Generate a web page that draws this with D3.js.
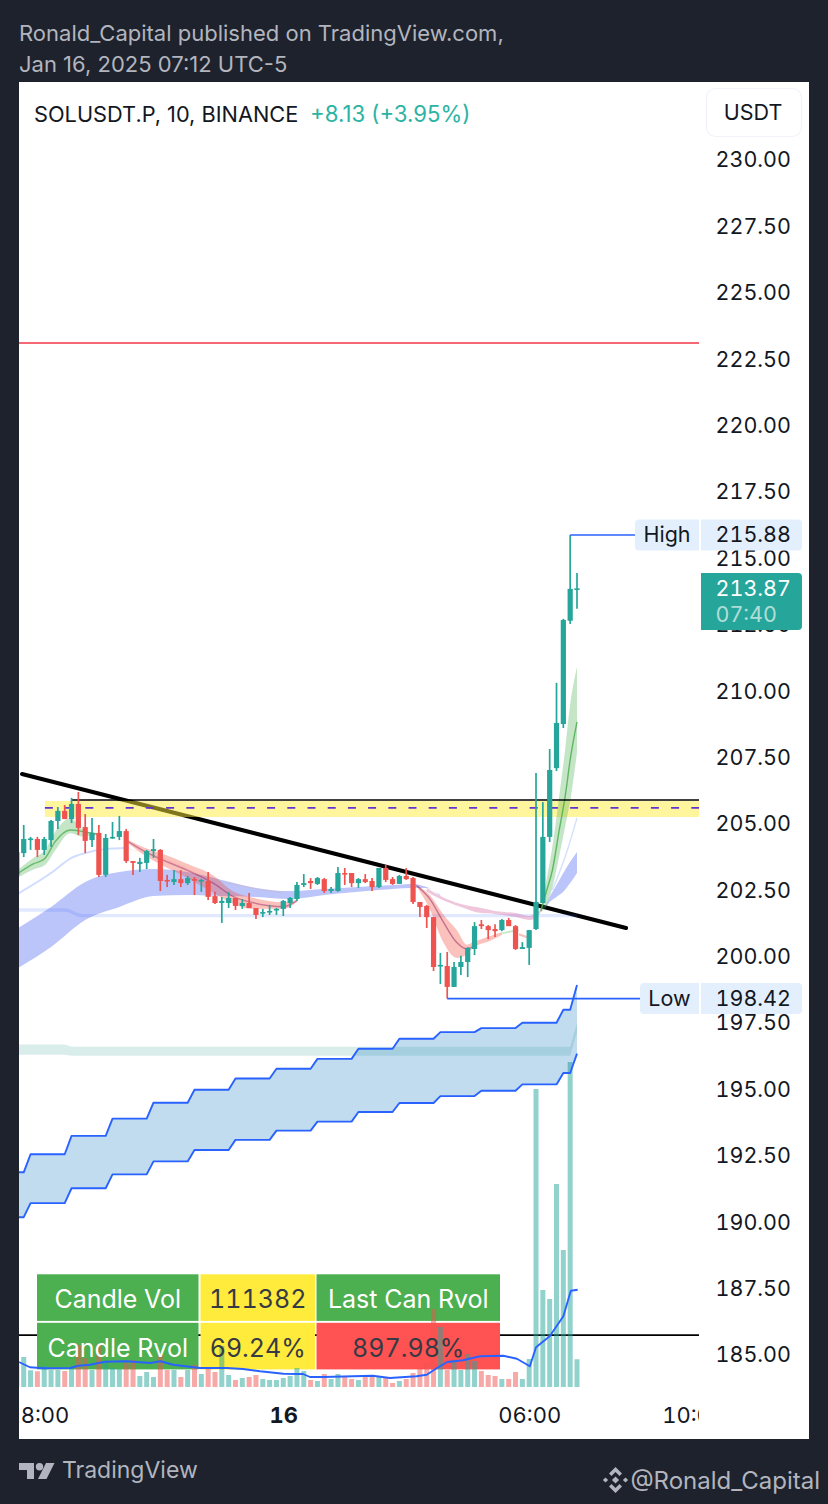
<!DOCTYPE html>
<html><head><meta charset="utf-8">
<script src="https://d3js.org/d3.v7.min.js"></script>
<style>html,body{margin:0;padding:0;background:#1e222d}svg{display:block}text{font-family:Inter,"Noto Sans",sans-serif}.tn,.tn text{font-variant-numeric:tabular-nums;font-feature-settings:"tnum" 1}</style>
</head><body><div id="c"></div>
<script>
// ---------- candles (10 min) ----------
const opens=[203.08,203.90,204.39,204.43,204.02,204.39,205.11,205.49,205.18,205.75,204.88,204.39,204.66,203.08,204.47,204.51,204.73,203.60,203.49,203.53,203.98,204.02,202.89,202.81,202.92,202.77,202.92,202.85,202.85,202.28,202.02,202.02,202.21,201.91,202.02,201.83,201.64,201.68,201.76,201.80,202.02,202.17,202.70,202.85,202.74,202.92,202.47,202.47,203.15,203.15,202.77,202.92,202.85,202.62,203.34,202.92,202.74,203.04,202.96,202.06,201.91,201.49,199.65,199.65,198.86,199.61,199.80,200.29,201.22,201.15,201.04,201.00,201.38,201.15,200.29,200.33,201.04,202.02,204.51,207.10,208.76,212.65,213.85];
const highs=[204.00,204.96,204.51,204.51,204.51,205.15,205.64,205.71,205.98,206.20,205.37,205.22,204.96,204.62,205.07,205.30,204.81,203.60,203.72,204.02,204.43,204.05,203.08,203.26,203.26,203.04,203.00,202.92,203.19,202.44,202.25,202.44,202.21,202.17,202.40,201.83,201.80,201.95,201.83,202.13,202.25,202.81,203.11,202.96,203.00,202.96,202.62,203.38,203.34,203.15,202.96,203.11,202.96,203.34,203.45,203.00,203.08,203.34,203.00,202.06,201.95,201.49,200.14,200.18,199.80,200.03,200.36,201.30,201.38,201.19,201.22,201.42,201.46,201.19,200.55,201.00,206.92,205.82,207.82,210.31,212.72,215.88,214.45];
const lows=[203.00,203.75,204.02,203.75,203.83,204.13,204.81,205.18,205.03,204.58,203.90,204.13,203.00,203.00,204.43,204.39,203.53,203.08,203.19,203.30,203.72,202.47,202.62,202.70,202.62,202.70,202.32,202.44,202.13,201.98,201.27,201.83,201.76,201.80,201.83,201.42,201.49,201.57,201.57,201.53,201.83,202.10,202.62,202.55,202.70,202.40,202.40,202.44,202.70,202.62,202.59,202.77,202.47,202.59,202.81,202.70,202.74,202.89,201.98,201.49,201.08,199.46,198.97,198.42,198.86,199.31,199.23,200.06,201.04,200.66,200.74,200.96,201.15,200.25,200.29,199.69,201.00,202.02,204.32,206.99,208.61,212.53,213.10];
const closes=[203.94,204.43,204.45,204.02,204.43,205.11,205.49,205.18,205.75,204.85,204.36,204.66,203.08,204.47,204.51,204.73,203.60,203.53,203.57,203.98,204.05,202.85,202.85,202.92,202.77,202.96,202.89,202.89,202.25,202.02,202.10,202.21,201.91,202.02,201.83,201.57,201.68,201.72,201.80,202.10,202.21,202.70,202.77,202.77,202.96,202.47,202.55,203.15,203.11,202.77,202.92,202.81,202.62,203.34,202.89,202.74,203.04,202.92,202.06,201.87,201.49,199.61,199.69,198.86,199.61,199.80,200.33,201.15,201.15,201.00,200.96,201.38,201.15,200.29,200.36,201.00,202.06,204.51,207.03,208.80,212.68,213.85,213.87];
// volume, thousands
const volumes=[88,120,67,63,84,68,68,64,76,168,116,68,172,104,76,72,96,108,44,60,40,128,68,68,40,68,88,52,80,60,164,48,28,36,40,48,32,28,28,36,44,76,64,28,24,52,32,52,40,32,28,40,44,40,36,16,24,32,56,76,96,312,240,68,104,68,132,104,64,48,44,32,32,60,32,112,1192,388,352,812,548,1300,111];
const volMaIdx=[0.3,1.9,3.9,7.8,9,10.7,12.9,16.1,19.5,21,22.9,26.8,30.7,33.1,35.6,39,41.4,41.9,42.9,44.9,52.1,54.6,58.5,60,61.5,63,65.3,67.8,71.2,73.2,75.1,76,78,80,81.1,82.1];
const volMa=[100,79,75,76,85,89,101,103,96,103,89,76,76,72,63,53,52,52,40,40,45,36,43,49,76,100,107,123,125,113,83,159,203,283,385,389];
// ---------- stepped cloud ----------
const cloudIdx=[-1,1,2,7,8,13,14,19,20,25,26,31,32,37,38,43,44,49,50,55,56,61,62,67,68,73,74,79,80,81,82];
const cloudTop=[191.88,191.88,192.56,192.56,193.25,193.25,193.90,193.90,194.50,194.50,194.99,194.99,195.41,195.41,195.78,195.78,196.15,196.15,196.53,196.53,196.91,196.91,197.16,197.16,197.31,197.31,197.51,197.51,198.00,198.00,198.93];
const cloudBot=[190.19,190.19,190.72,190.72,191.28,191.28,191.80,191.80,192.29,192.29,192.72,192.72,193.10,193.10,193.45,193.45,193.79,193.79,194.15,194.15,194.49,194.49,194.75,194.75,194.95,194.95,195.19,195.19,195.62,195.62,196.35];
const tealIdx=[-1,7,8,81,82];
const tealTop=[196.69,196.69,196.61,196.61,197.50];
const tealBot=[196.31,196.31,196.27,196.27,197.16];
// ---------- moving-average ribbons ----------
const blueIdx=[-1,5,10,15,20,25,30,35,40,45,50,55,58,60,62];
const blueTop=[200.90,201.87,202.81,203.19,203.30,203.19,202.89,202.59,202.47,202.55,202.62,202.70,202.74,202.62,202.32];
const blueBot=[199.40,200.36,201.38,201.87,202.28,202.32,202.28,202.25,202.17,202.32,202.44,202.55,202.59,202.59,202.28];
const blue2Idx=[77.3,78,79,80,81,82];
const blue2Top=[201.87,202.25,202.70,203.15,203.57,203.94];
const blue2Bot=[201.80,202.06,202.25,202.44,202.77,203.15];
const pinkIdx=[60,62,65,68,70,73,75,76,77];
const pinkTop=[202.59,202.28,201.98,201.83,201.72,201.64,201.53,201.64,201.83];
const pinkBot=[202.44,202.17,201.87,201.64,201.61,201.49,201.38,201.46,201.80];
const green1Idx=[-0.5,2.4,4.1,5.6,7.8,9.7,11.7];
const green1Top=[203.12,203.72,204.00,204.70,205.20,204.78,204.65];
const green1Bot=[202.88,203.28,203.45,204.00,204.65,204.52,204.58];
const green1Mid=[203.02,203.49,203.70,204.33,204.77,204.71,204.62];
const red1Idx=[16.3,18.5,21,24.9,28.8,31.7,34.6,39,41];
const red1Top=[204.39,204.12,203.90,203.50,203.05,202.45,202.22,202.05,202.13];
const red1Bot=[204.27,203.85,203.48,202.97,202.40,201.98,201.80,201.80,202.07];
const red1Mid=[204.33,203.99,203.68,203.26,202.76,202.26,202.03,201.88,202.11];
const red2Idx=[58.5,60.5,62.4,64.4,65.9,66.8,69.3,71];
const red2Top=[202.70,202.30,201.60,201.00,200.45,200.55,200.78,200.92];
const red2Bot=[202.66,201.76,200.55,199.95,200.10,200.33,200.60,200.82];
const red2MidIdx=[58.5,60.5,62.4,64.4,65.9,66.8];
const red2Mid=[202.68,202.16,201.32,200.53,200.29,200.38];
const green3Idx=[71,72,73.5];
const green3Top=[200.90,200.97,201.02];
const green3Bot=[200.84,200.90,200.96];
const red3Idx=[73.5,74.7];
const red3Top=[200.88,200.78];
const red3Bot=[200.80,200.68];
const green2Idx=[76.7,77.5,78.4,79.4,80.3,81,82];
const green2Top=[201.76,202.85,204.15,206.05,207.90,209.50,210.91];
const green2Bot=[201.68,201.92,202.60,203.80,204.95,205.85,207.70];
const green2Mid=[201.72,202.44,203.26,204.77,206.09,207.41,208.84];
const paleIdx=[-1,5,8,10,13,16];
const paleVal=[202.20,203.15,203.72,203.90,204.05,204.09];
const faintIdx=[16,22,28.8,34.6,39];
const faintVal=[204.09,203.64,202.89,202.59,202.40];
const pale2Idx=[78.4,80.6,82];
const pale2Val=[202.51,204.02,205.22];
const flatIdx=[-1,7,9.5,82];
const flatTop=[201.82,201.82,201.61,201.61];
const flatBot=[201.69,201.69,201.48,201.48];
// ---------- levels ----------
const redLevel=223.11, boxLevel=205.90, zoneTop=205.86, zoneBot=205.26, dashLevel=205.60, lowerLevel=185.75;
const zoneStartIdx=4.1, boxStartIdx=8;
const trendIdx=[0.75,89.18], trendVal=[206.88,201.08];
const highValue=215.88, highIdx=81, lowValue=198.42, lowIdx=63, lastValue=213.87;
// ---------- labels ----------
const priceTicks=[230,227.5,225,222.5,220,217.5,215,212.5,210,207.5,205,202.5,200,197.5,195,192.5,190,187.5,185];
const timeTickIdx=[3,39,75,99];
const timeTickLabels=["18:00","16","06:00","10:00"];
const tableRows=[["Candle Vol","111382","Last Can Rvol"],["Candle Rvol","69.24%","897.98%"]];
const headerLines=["Ronald_Capital published on TradingView.com,","Jan 16, 2025 07:12 UTC-5"];

const W=828,H=1504;
const x=d3.scaleLinear().domain([0,82]).range([16.9,577]);
const y=d3.scaleLinear().domain([230,185]).range([160,1355]);
const vy=d3.scaleLinear().domain([0,1300]).range([1387,1062]);
const up="#26a69a",dn="#ef5350",blue="#2962ff",ink="#131722";
const svg=d3.select("#c").append("svg").attr("width",W).attr("height",H).attr("viewBox",`0 0 ${W} ${H}`);
svg.append("rect").attr("width",W).attr("height",H).attr("fill","#1e222d");
svg.append("rect").attr("x",19).attr("y",82).attr("width",790).attr("height",1357).attr("fill","#fff");
const defs=svg.append("defs");
defs.append("clipPath").attr("id","pane").append("rect").attr("x",19).attr("y",82).attr("width",680).attr("height",1306);
defs.append("clipPath").attr("id","taxis").append("rect").attr("x",19).attr("y",1388).attr("width",680).attr("height",50);
const pane=svg.append("g").attr("clip-path","url(#pane)");

function band(idx,top,bot,fill,par=pane){
  const d=idx.map((v,i)=>({i:v,t:top[i],b:bot[i]}));
  par.append("path").attr("fill",fill).attr("d",d3.area().curve(d3.curveMonotoneX).x(p=>x(p.i)).y0(p=>y(p.b)).y1(p=>y(p.t))(d));
}
const xEnd=699;
// lower panel items
pane.append("line").attr("x1",19).attr("x2",xEnd).attr("y1",y(lowerLevel)).attr("y2",y(lowerLevel)).attr("stroke","#000").attr("stroke-width",1.6);
// table cells
const colX=[37,200.5,316.5], colW=[161.5,114.5,183.5], rowY=[1274.3,1322.8], rowH=46.6;
const cellFill=[["#4caf50","#ffeb3b","#4caf50"],["#4caf50","#ffeb3b","#ff5252"]];
const cellText=[["#fff","#363a45","#fff"],["#fff","#363a45","#363a45"]];
tableRows.forEach((r,ri)=>r.forEach((c,ci)=>{
  svg.append("rect").attr("x",colX[ci]).attr("y",rowY[ri]).attr("width",colW[ci]).attr("height",rowH).attr("fill",cellFill[ri][ci]);
}));
// volumes
const pane2=svg.append("g").attr("clip-path","url(#pane)");
pane2.selectAll("rect").data(volumes).join("rect")
  .attr("x",(d,i)=>x(i)-2.5).attr("width",5)
  .attr("y",d=>vy(d)).attr("height",d=>vy(0)-vy(d))
  .attr("fill",(d,i)=>closes[i]>=opens[i]?"rgba(38,166,154,.5)":"rgba(239,83,80,.5)");
const pane3=svg.append("g").attr("clip-path","url(#pane)");
// stepped cloud
(function(){
  const d=cloudIdx.map((v,i)=>({i:v,t:cloudTop[i],b:cloudBot[i]}));
  pane3.append("path").attr("fill","rgba(0,137,123,.15)").attr("d",d3.area().x(p=>x(p.i)).y0(p=>y(p.b)).y1(p=>y(p.t))(tealIdx.map((v,i)=>({i:v,t:tealTop[i],b:tealBot[i]}))));
  pane3.append("path").attr("fill","rgba(15,120,190,.26)").attr("d",d3.area().x(p=>x(p.i)).y0(p=>y(p.b)).y1(p=>y(p.t))(d));
  [cloudTop,cloudBot].forEach(s=>pane3.append("path").attr("fill","none").attr("stroke",blue).attr("stroke-width",1.9).attr("stroke-linejoin","round")
    .attr("d",d3.line().x((p,i)=>x(p)).y((p,i)=>y(s[i]))(cloudIdx)));
})();
// volume MA
pane3.append("path").attr("fill","none").attr("stroke",blue).attr("stroke-width",1.9).attr("stroke-linejoin","round")
  .attr("d",d3.line().x((p)=>x(p)).y((p,i)=>vy(volMa[i]))(volMaIdx));
// table text
tableRows.forEach((r,ri)=>r.forEach((c,ci)=>{
  svg.append("text").attr("class","tn").attr("x",colX[ci]+colW[ci]/2).attr("y",rowY[ri]+rowH/2+10.5).attr("text-anchor","middle")
    .attr("font-size",25).attr("fill",cellText[ri][ci]).text(c);
}));
// chart area
const chart=svg.append("g").attr("clip-path","url(#pane)");
chart.append("line").attr("x1",19).attr("x2",xEnd).attr("y1",y(redLevel)).attr("y2",y(redLevel)).attr("stroke","#f23645").attr("stroke-width",1.5);
chart.append("line").attr("x1",x(trendIdx[0])).attr("x2",x(trendIdx[1])).attr("y1",y(trendVal[0])).attr("y2",y(trendVal[1])).attr("stroke","#000").attr("stroke-width",4).attr("stroke-linecap","round");
chart.append("rect").attr("x",x(zoneStartIdx)).attr("width",xEnd-x(zoneStartIdx)).attr("y",y(zoneTop)).attr("height",y(zoneBot)-y(zoneTop)).attr("fill","rgba(255,235,59,.5)");
band(flatIdx,flatTop,flatBot,"rgba(41,98,255,.14)",chart);
band(blueIdx,blueTop,blueBot,"rgba(50,80,240,.33)",chart);
band(blue2Idx,blue2Top,blue2Bot,"rgba(50,80,240,.33)",chart);
band(pinkIdx,pinkTop,pinkBot,"rgba(200,50,130,.28)",chart);
band(green1Idx,green1Top,green1Bot,"rgba(76,175,80,.32)",chart);
band(green2Idx,green2Top,green2Bot,"rgba(76,175,80,.32)",chart);
band(green3Idx,green3Top,green3Bot,"rgba(76,175,80,.32)",chart);
band(red1Idx,red1Top,red1Bot,"rgba(244,67,54,.33)",chart);
band(red2Idx,red2Top,red2Bot,"rgba(244,67,54,.33)",chart);
band(red3Idx,red3Top,red3Bot,"rgba(244,67,54,.33)",chart);
function cl(idx,val,stroke,w){
  chart.append("path").attr("fill","none").attr("stroke",stroke).attr("stroke-width",w)
   .attr("d",d3.line().curve(d3.curveMonotoneX).x(p=>x(p)).y((p,i)=>y(val[i]))(idx));
}
cl(green1Idx,green1Mid,"rgba(76,175,80,.8)",1.4);
cl(green2Idx,green2Mid,"rgba(76,175,80,.85)",1.4);
cl(red1Idx,red1Mid,"rgba(136,14,79,.4)",1.4);
cl(red2MidIdx,red2Mid,"rgba(136,14,79,.45)",1.4);
cl(paleIdx,paleVal,"rgba(41,98,255,.22)",2);
cl(faintIdx,faintVal,"rgba(244,143,100,.12)",1.2);
cl(pale2Idx,pale2Val,"rgba(41,98,255,.2)",1.4);
chart.append("line").attr("x1",x(boxStartIdx)).attr("x2",xEnd).attr("y1",y(boxLevel)).attr("y2",y(boxLevel)).attr("stroke","#000").attr("stroke-width",1.7);
chart.append("line").attr("x1",x(zoneStartIdx)).attr("x2",xEnd).attr("y1",y(dashLevel)).attr("y2",y(dashLevel)).attr("stroke","#5e35d0").attr("stroke-width",1.7).attr("stroke-dasharray","8,12.2");
// candles
const idxs=d3.range(opens.length);
const cg=chart.append("g");
cg.selectAll("line").data(idxs).join("line")
  .attr("x1",i=>x(i)).attr("x2",i=>x(i)).attr("y1",i=>y(highs[i])).attr("y2",i=>y(lows[i]))
  .attr("stroke",i=>closes[i]>=opens[i]?up:dn).attr("stroke-width",1.7);
cg.selectAll("rect").data(idxs).join("rect")
  .attr("x",i=>x(i)-2.6).attr("width",5.2)
  .attr("y",i=>y(Math.max(opens[i],closes[i])))
  .attr("height",i=>Math.max(1.6,Math.abs(y(opens[i])-y(closes[i]))))
  .attr("fill",i=>closes[i]>=opens[i]?up:dn);
// high / low callouts
chart.append("line").attr("x1",x(highIdx)).attr("x2",635).attr("y1",y(highValue)).attr("y2",y(highValue)).attr("stroke",blue).attr("stroke-width",1.6);
chart.append("line").attr("x1",x(lowIdx)).attr("x2",640).attr("y1",y(lowValue)).attr("y2",y(lowValue)).attr("stroke",blue).attr("stroke-width",1.6);
// price axis
const axisG=svg.append("g").attr("class","tn").attr("transform","translate(791,0)")
  .call(d3.axisRight(y).tickValues(priceTicks).tickSize(0).tickPadding(0).tickFormat(d3.format(".2f")));
axisG.select(".domain").remove();
axisG.selectAll("text").attr("text-anchor","end").attr("fill",ink).attr("font-size",21.5).attr("font-family","Inter");
// time axis
const tg=svg.append("g").attr("class","tn").attr("clip-path","url(#taxis)").append("g").attr("transform","translate(0,1388)")
  .call(d3.axisBottom(x).tickValues(timeTickIdx).tickSize(0).tickPadding(0).tickFormat((d,i)=>timeTickLabels[i]));
tg.select(".domain").remove();
tg.selectAll("text").attr("fill",ink).attr("font-size",22).attr("font-family","Inter").attr("dy",0).attr("y",35)
  .attr("font-weight",(d,i)=>timeTickLabels[i]==="16"?700:400);
// tags
function roundR(px,py,w,h,r){return `M${px},${py}H${px+w-r}a${r},${r} 0 0 1 ${r},${r}V${py+h-r}a${r},${r} 0 0 1 ${-r},${r}H${px}Z`;}
function roundL(px,py,w,h,r){return `M${px+w},${py}H${px+r}a${r},${r} 0 0 0 ${-r},${r}V${py+h-r}a${r},${r} 0 0 0 ${r},${r}H${px+w}Z`;}
function tag(val,label,lx){
  const cy=y(val),ty=cy-15.5;
  svg.append("path").attr("d",roundL(lx,ty,699-lx,31,4)).attr("fill","#e3effd");
  svg.append("path").attr("d",roundR(701,ty,101,31,4)).attr("fill","#e3effd");
  svg.append("text").attr("x",(lx+699)/2).attr("y",cy+7.5).attr("text-anchor","middle").attr("font-size",21.5).attr("fill",ink).text(label);
  svg.append("text").attr("class","tn").attr("x",791).attr("y",cy+7.5).attr("text-anchor","end").attr("font-size",21.5).attr("fill",ink).text(d3.format(".2f")(val));
}
tag(highValue,"High",635);
tag(lowValue,"Low",640);
svg.append("path").attr("d",roundR(701,573,101,57,4)).attr("fill",up);
svg.append("text").attr("class","tn").attr("x",791).attr("y",y(lastValue)+8).attr("text-anchor","end").attr("font-size",21.5).attr("fill","#fff").text(d3.format(".2f")(lastValue));
svg.append("text").attr("class","tn").attr("x",777).attr("y",622).attr("text-anchor","end").attr("font-size",21.5).attr("fill","rgba(255,255,255,.65)").text("07:40");
// USDT button
svg.append("rect").attr("x",706.5).attr("y",88.5).attr("width",95).attr("height",48).attr("rx",9).attr("fill","#fff").attr("stroke","#f0f3fa").attr("stroke-width",1.2);
svg.append("text").attr("x",753).attr("y",120).attr("text-anchor","middle").attr("font-size",21.5).attr("fill",ink).text("USDT");
// legend
svg.append("text").attr("x",34).attr("y",122).attr("font-size",21.75).attr("fill",ink).text("SOLUSDT.P, 10, BINANCE");
svg.append("text").attr("x",310).attr("y",122).attr("font-size",22.2).attr("fill","#2bb3a3").text("+8.13 (+3.95%)");
// header
headerLines.forEach((t,i)=>svg.append("text").attr("x",19).attr("y",41+i*31).attr("font-size",22).attr("fill","#b2b5be").text(t));
// footer
const foot="#b2b5be";
svg.append("path").attr("fill",foot).attr("d","M19,1463H34V1479H27V1470H19Z");
svg.append("circle").attr("cx",39.5).attr("cy",1466.7).attr("r",3.7).attr("fill",foot);
svg.append("path").attr("fill",foot).attr("d","M46,1463H54.5L46.5,1479H38Z");
svg.append("text").attr("x",62).attr("y",1478).attr("font-size",23).attr("fill",foot).text("TradingView");
const dm=(cx,cy,r)=>`M${cx},${cy-r}L${cx+r},${cy}L${cx},${cy+r}L${cx-r},${cy}Z`;
const ic=svg.append("g").attr("fill",foot);
ic.append("path").attr("d",dm(615.5,1480,3.6));
ic.append("path").attr("d",dm(605.5,1480,2.6));
ic.append("path").attr("d",dm(625.5,1480,2.6));
ic.append("path").attr("d","M615.5,1467L622,1473.5L619.5,1476L615.5,1472L611.5,1476L609,1473.5Z");
ic.append("path").attr("d","M615.5,1493L622,1486.5L619.5,1484L615.5,1488L611.5,1484L609,1486.5Z");
svg.append("text").attr("x",820).attr("y",1489).attr("text-anchor","end").attr("font-size",24).attr("fill",foot).text("@Ronald_Capital");
</script></body></html>
